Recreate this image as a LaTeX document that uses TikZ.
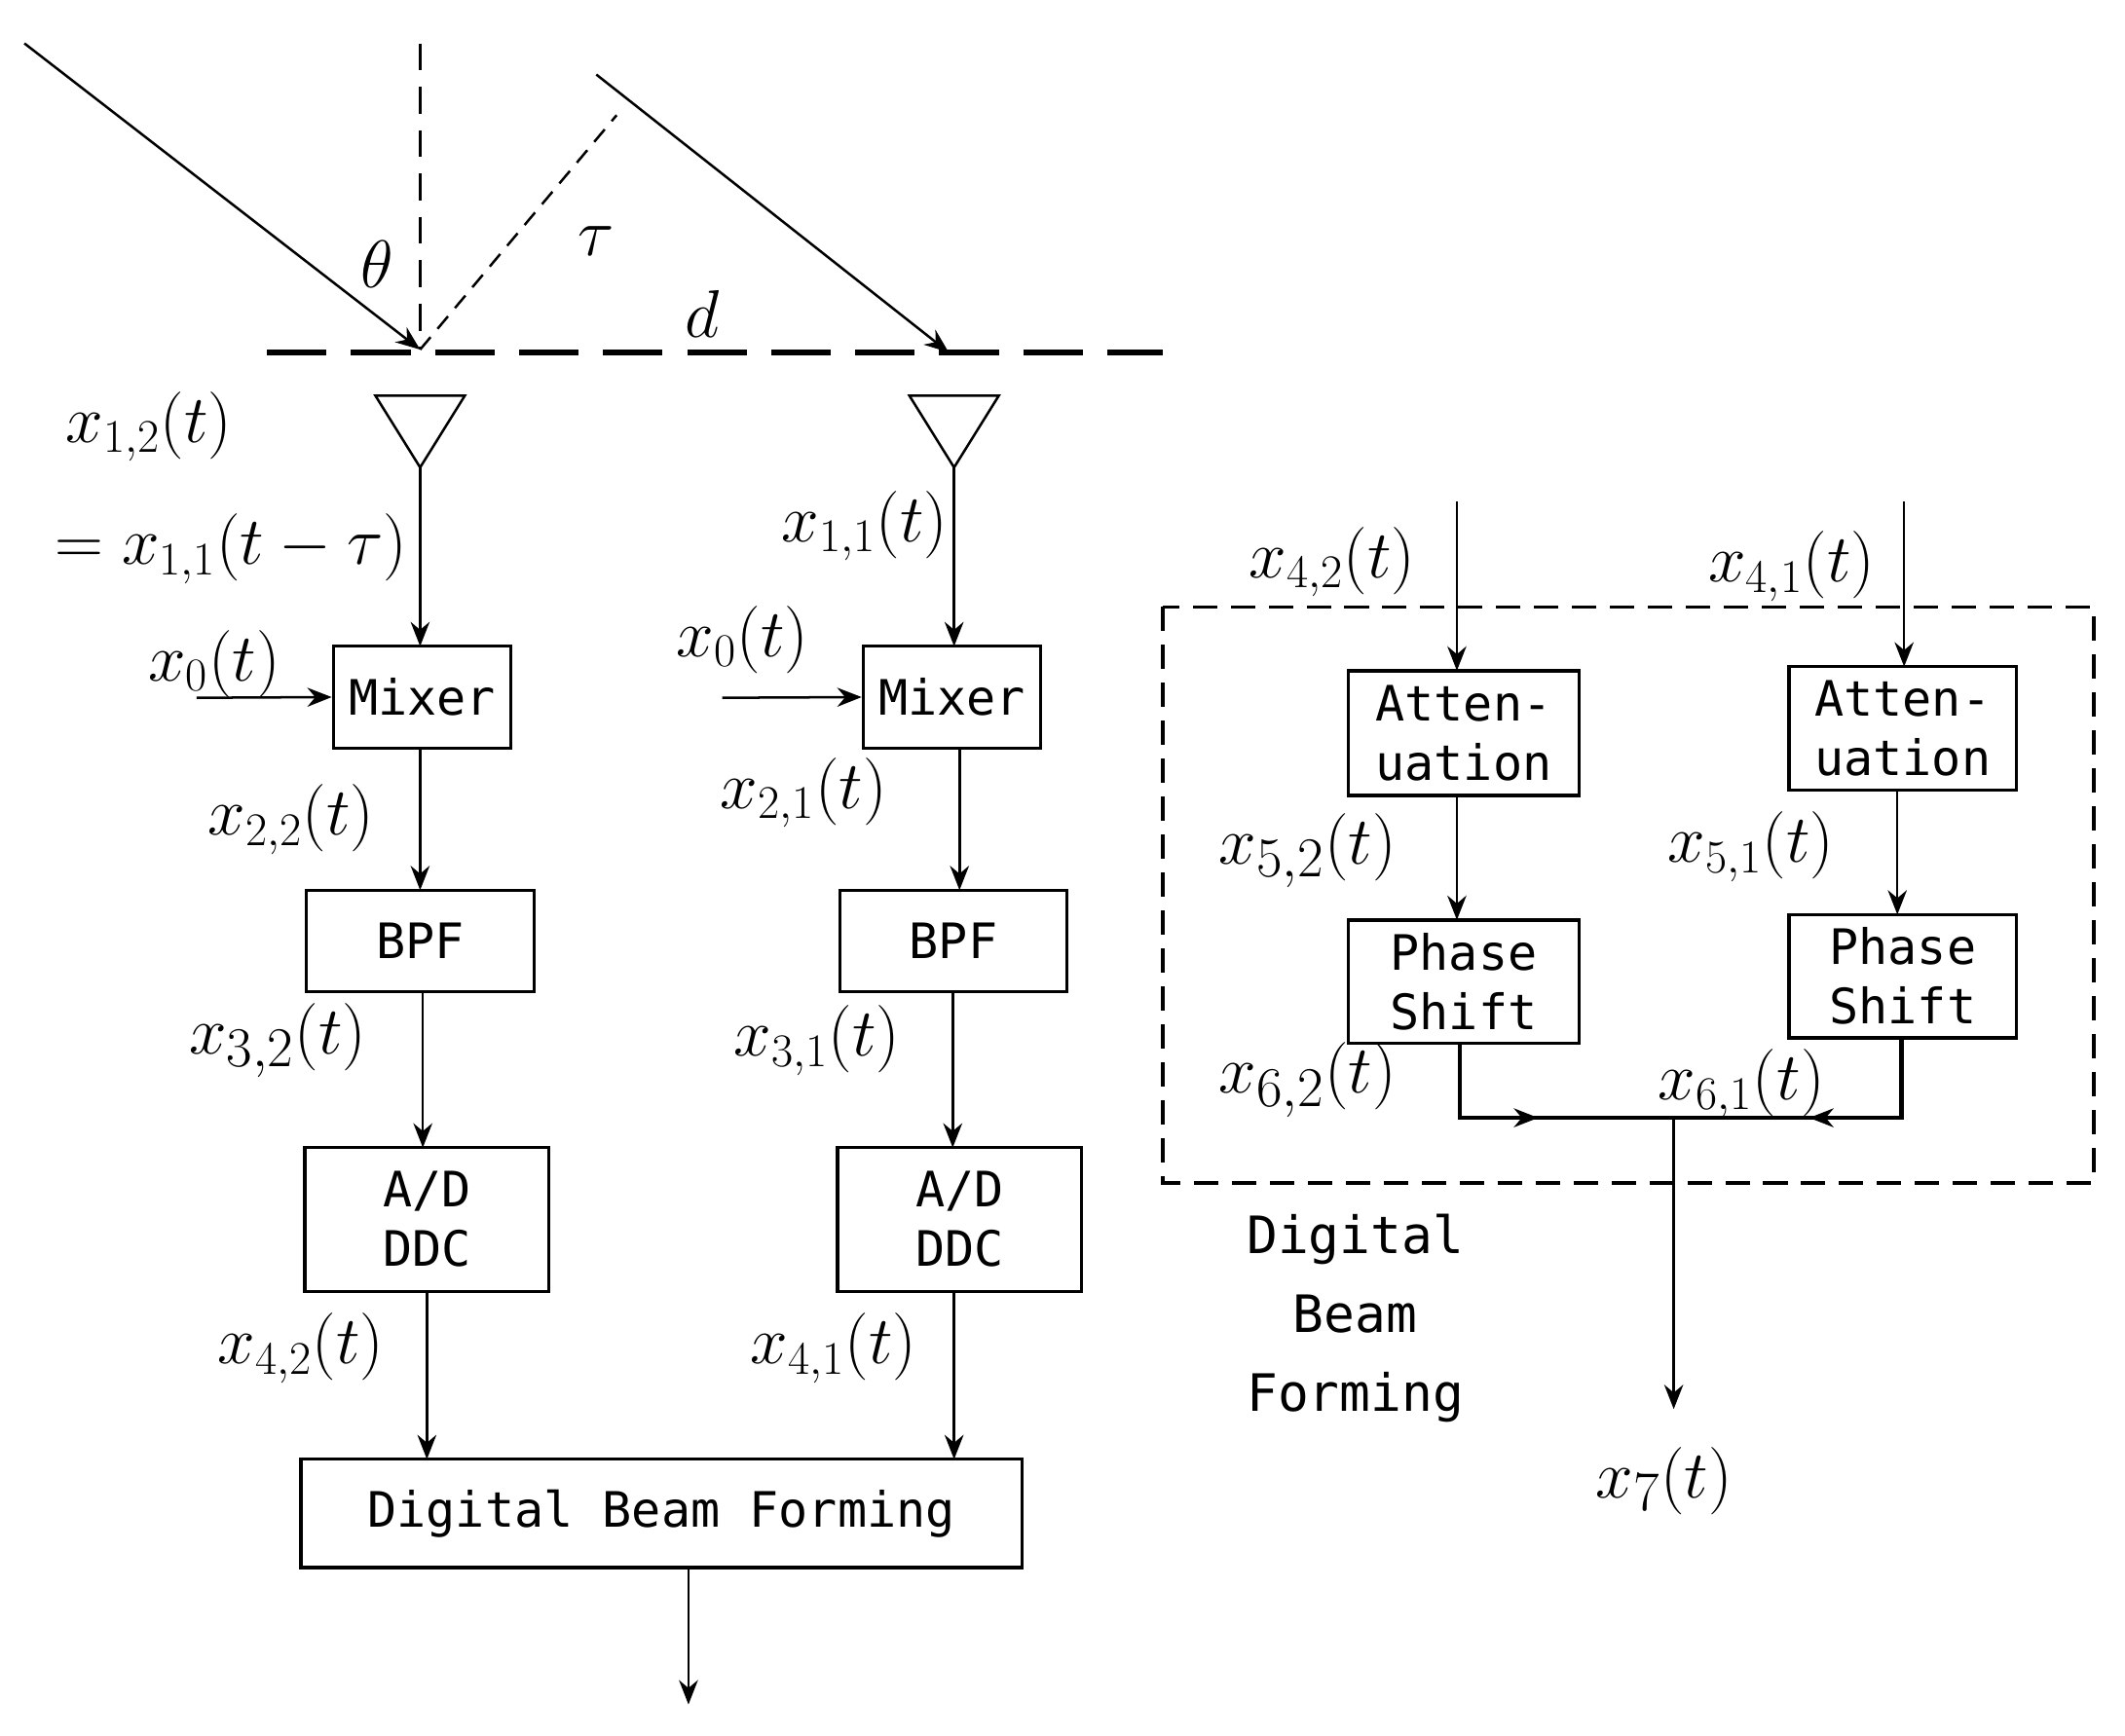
\documentclass[tikz,border=0pt]{standalone}
\usepackage{fontspec}
\newfontfamily\boxfont{DejaVu Sans Mono}
\usetikzlibrary{arrows.meta}
\begin{document}
\begin{tikzpicture}[x=0.5pt,y=-0.5pt,
  blk/.style={draw,line width=1.2pt,inner sep=0pt,font=\boxfont\fontsize{18}{22}\selectfont,align=center},
  lab/.style={font=\fontsize{25}{29}\selectfont,inner sep=0pt},
  arr/.style={-{Stealth[length=9pt,width=7pt]},line width=0.9pt},
  ln/.style={line width=0.9pt}]
\useasboundingbox (0,0) rectangle (1568,1281);
% top geometry
\draw[ln,dashed,dash pattern=on 10pt off 6pt] (310,32) -- (310,258);
\draw[ln,dashed,dash pattern=on 6pt off 4pt] (310,258) -- (455,85);
\coordinate (r1s) at (18,32); \coordinate (r1e) at (310,258);
\coordinate (r2s) at (440,55); \coordinate (r2e) at (700,260);
\draw[arr] (r1s) -- (r1e);
\draw[arr] (r2s) -- (r2e);
\draw[line width=2pt,dash pattern=on 22pt off 9pt] (197,260) -- (858,260);
\node[lab] (th) at (278,195) {$\theta$};
\node[lab,font=\fontsize{36}{40}\selectfont] (tau) at (440,178) {$\tau$};
\node[lab,font=\fontsize{28}{32}\selectfont] (dd) at (518,232) {$d$};
% antennas
\foreach \c/\n in {310/L,704/R}{
  \draw[ln] (\c-33,292) -- (\c+33,292) -- (\c,345) -- cycle;
  \coordinate (ant\n) at (\c,345);
}
% left chain
\node[blk,minimum width=65.5pt,minimum height=37.5pt] (mixL) at (311.5,514.5) {Mixer};
\node[blk,minimum width=84pt,minimum height=37.5pt] (bpfL) at (310,694.5) {BPF};
\node[blk,minimum width=90pt,minimum height=53pt] (adL) at (315,900) {A/D\\DDC};
\node[blk,minimum width=266pt,minimum height=40pt] (dbf) at (488,1117) {Digital Beam Forming};
\node[blk,minimum width=65.5pt,minimum height=37.5pt] (mixR) at (702.5,514.5) {Mixer};
\node[blk,minimum width=83.5pt,minimum height=37.5pt] (bpfR) at (703.5,694.5) {BPF};
\node[blk,minimum width=90pt,minimum height=53pt] (adR) at (708,900) {A/D\\DDC};
\draw[arr] (antL) -- (310,477);
\draw[arr] (antR) -- (704,477);
\coordinate (x0L) at (145,515); \coordinate (x0R) at (533,515);
\draw[arr] (x0L) -- (mixL.west);
\draw[arr] (x0R) -- (mixR.west);
\draw[arr] (310,552) -- (310,657);
\draw[arr] (708,552) -- (708,657);
\draw[arr] (312,732) -- (312,847);
\draw[arr] (703,732) -- (703,847);
\draw[arr] (315,953) -- (315,1077);
\draw[arr] (704,953) -- (704,1077);
\coordinate (outL) at (508,1258);
\draw[arr] (508,1157) -- (outL);
% left labels
\node[lab] (l1) at (110,315) {$x_{1,2}(t)$};
\node[lab,anchor=west] (l2) at (40,405) {$=x_{1,1}(t-\tau)$};
\node[lab] (l3) at (158,490) {$x_0(t)$};
\node[lab] (l4) at (215,605) {$x_{2,2}(t)$};
\node[lab,font=\fontsize{29}{33}\selectfont] (l5) at (205,768) {$x_{3,2}(t)$};
\node[lab] (l6) at (222,995) {$x_{4,2}(t)$};
\node[lab] (r1) at (638,388) {$x_{1,1}(t)$};
\node[lab] (r2) at (548,472) {$x_0(t)$};
\node[lab] (r3) at (593,585) {$x_{2,1}(t)$};
\node[lab] (r4) at (603,768) {$x_{3,1}(t)$};
\node[lab] (r5) at (615,995) {$x_{4,1}(t)$};
% right panel
\draw[line width=1.3pt,dash pattern=on 9pt off 5pt] (858,448) rectangle (1545,873);
\node[blk,minimum width=85pt,minimum height=46pt] (atL) at (1080,541) {Atten-\\uation};
\node[blk,minimum width=84pt,minimum height=45.5pt] (atR) at (1404,537.5) {Atten-\\uation};
\node[blk,minimum width=85pt,minimum height=45.5pt] (phL) at (1080,724.5) {Phase\\Shift};
\node[blk,minimum width=84pt,minimum height=45.5pt] (phR) at (1404,720.5) {Phase\\Shift};
\draw[arr] (1075,370) -- (1075,495);
\draw[arr] (1405,370) -- (1405,492);
\draw[arr] (1075,587) -- (1075,679);
\draw[arr] (1400,583) -- (1400,675);
\draw[line width=1.6pt] (1077,770) -- (1077,825) -- (1403,825) -- (1403,766);
\draw[arr] (1077,825) -- (1135,825);
\draw[arr] (1403,825) -- (1335,825);
\coordinate (x7) at (1235,1040);
\draw[arr] (1235,825) -- (x7);
\node[lab] (q1) at (983,415) {$x_{4,2}(t)$};
\node[lab] (q2) at (1322,418) {$x_{4,1}(t)$};
\node[lab,font=\fontsize{29}{33}\selectfont] (q3) at (965,628) {$x_{5,2}(t)$};
\node[lab] (q4) at (1292,625) {$x_{5,1}(t)$};
\node[lab,font=\fontsize{29}{33}\selectfont] (q5) at (965,797) {$x_{6,2}(t)$};
\node[lab] (q6) at (1285,800) {$x_{6,1}(t)$};
\node[lab,font=\fontsize{29}{33}\selectfont] (q7) at (1228,1093) {$x_7(t)$};
\node[font=\boxfont\fontsize{19}{29}\selectfont,align=center] (dbf2) at (1000,973) {Digital\\Beam\\Forming};
\end{tikzpicture}
\end{document}
